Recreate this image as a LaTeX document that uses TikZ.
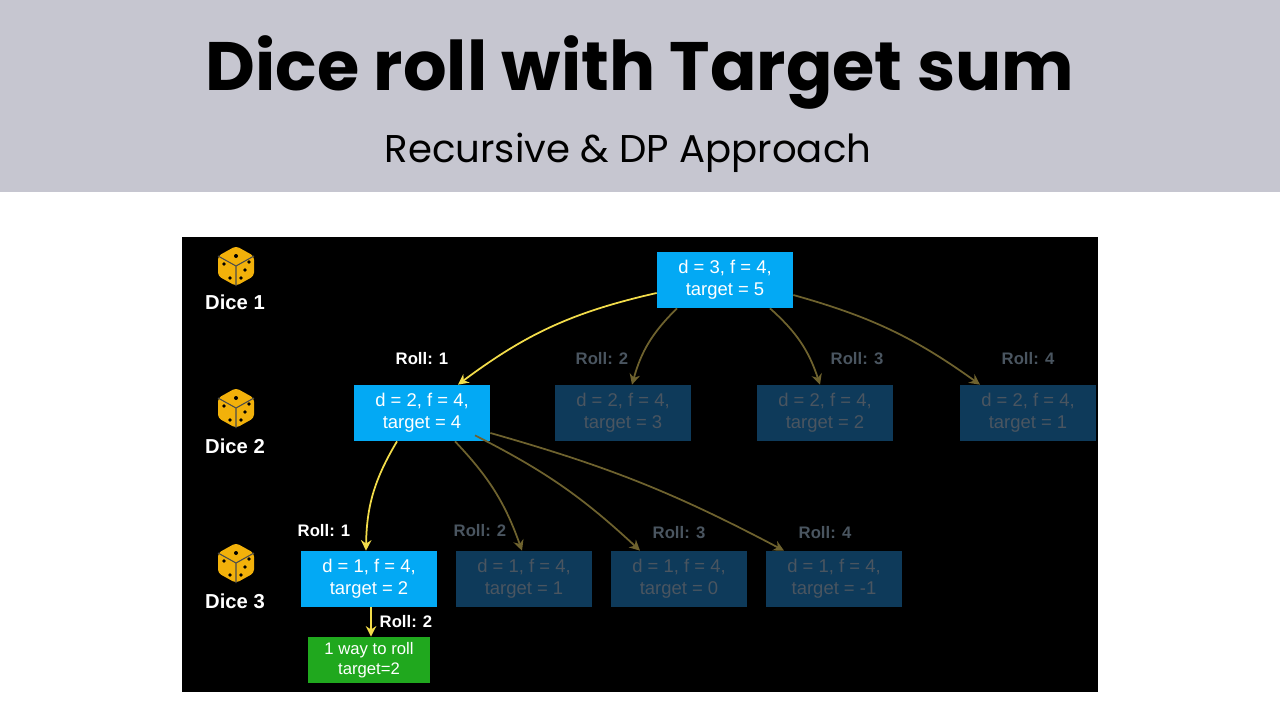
\documentclass[tikz,border=0pt]{standalone}
\usepackage{fontspec}
\setmainfont{Liberation Sans}
\newfontfamily\titlefont{Poppins}
\usetikzlibrary{arrows.meta}
\definecolor{band}{HTML}{C6C6D0}
\definecolor{live}{HTML}{03A9F4}
\definecolor{dead}{HTML}{0E3A5A}
\definecolor{deadtext}{HTML}{4A5560}
\definecolor{goal}{HTML}{20A81E}
\definecolor{hot}{HTML}{F2DC4A}
\definecolor{cold}{HTML}{6E622E}
\definecolor{die}{HTML}{F2B10A}
\newcommand{\dicepic}[1]{%
\begin{scope}[shift={#1}]
\fill[die,rounded corners=2pt] (0,-20) -- (18,-10) -- (18,10) -- (0,20) -- (-18,10) -- (-18,-10) -- cycle;
\draw[black!70,line width=0.6pt] (0,0) -- (0,20) (0,0) -- (18,-10) (0,0) -- (-18,-10);
\fill[black] (0,-10) circle (2) (-12,-2) circle (1.8) (-6,12) circle (1.8)
  (13,-4) circle (1.8) (9,4) circle (1.8) (5,12) circle (1.8);
\end{scope}}
\begin{document}
\begin{tikzpicture}[x=0.02cm,y=-0.02cm]
\tikzstyle{state}=[minimum width=136*0.02cm,minimum height=56*0.02cm,inner sep=0pt,align=center,font=\fontsize{10.5}{12.5}\selectfont]
\tikzstyle{alive}=[state,fill=live,text=white]
\tikzstyle{pruned}=[state,fill=dead,text=deadtext]
\tikzstyle{roll}=[font=\bfseries\fontsize{9.5}{11}\selectfont,text=white]
\tikzstyle{rollx}=[roll,text=deadtext]
\tikzstyle{dice}=[font=\bfseries\fontsize{11.5}{13}\selectfont,text=white]
\tikzstyle{hotarrow}=[draw=hot,line width=1pt,-{Stealth[length=6pt,width=6pt]}]
\tikzstyle{coldarrow}=[draw=cold,line width=1pt,-{Stealth[length=6pt,width=6pt]}]
\useasboundingbox (0,0) rectangle (1280,720);
\fill[white] (0,0) rectangle (1280,720);
\fill[band] (0,0) rectangle (1280,192);
\node[font=\titlefont\bfseries\fontsize{39}{44}\selectfont] (title) at (640,72) {Dice roll with Target sum};
\node[font=\titlefont\fontsize{22}{26}\selectfont] (sub) at (628,153) {Recursive \& DP Approach};
\fill[black] (182,237) rectangle (1098,692);

\dicepic{(236,266)} \dicepic{(236,408)} \dicepic{(236,563)}
\node[dice] (d1) at (235,302) {Dice 1};
\node[dice] (d2) at (235,446) {Dice 2};
\node[dice] (d3) at (235,601) {Dice 3};

\node[alive] (top) at (725,280) {d = 3, f = 4,\\target = 5};
\node[alive] (a1) at (422,413) {d = 2, f = 4,\\target = 4};
\node[pruned] (a2) at (623,413) {d = 2, f = 4,\\target = 3};
\node[pruned] (a3) at (825,413) {d = 2, f = 4,\\target = 2};
\node[pruned] (a4) at (1028,413) {d = 2, f = 4,\\target = 1};
\node[alive] (b1) at (369,579) {d = 1, f = 4,\\target = 2};
\node[pruned] (b2) at (524,579) {d = 1, f = 4,\\target = 1};
\node[pruned] (b3) at (679,579) {d = 1, f = 4,\\target = 0};
\node[pruned] (b4) at (834,579) {d = 1, f = 4,\\target = -1};
\node[state,fill=goal,text=white,minimum width=122*0.02cm,minimum height=46*0.02cm,font=\fontsize{9.5}{11.5}\selectfont] (win) at (369,660) {1 way to roll\\target=2};

\node[roll] (r1) at (422,359) {Roll: 1};
\node[rollx] (r2) at (602,359) {Roll: 2};
\node[rollx] (r3) at (857,359) {Roll: 3};
\node[rollx] (r4) at (1028,359) {Roll: 4};
\node[roll] (s1) at (324,531) {Roll: 1};
\node[rollx] (s2) at (480,531) {Roll: 2};
\node[rollx] (s3) at (679,533) {Roll: 3};
\node[rollx] (s4) at (825,533) {Roll: 4};
\node[roll] (t2) at (406,622) {Roll: 2};

\path[hotarrow] (top.west) ++(0,13) to[bend right=12] ([xshift=36*0.02cm]a1.north);
\path[coldarrow] ([xshift=-48*0.02cm]top.south) to[bend right=15] ([xshift=9*0.02cm]a2.north);
\path[coldarrow] ([xshift=45*0.02cm]top.south) to[bend left=15] ([xshift=-5*0.02cm]a3.north);
\path[coldarrow] (top.east) ++(0,15) to[bend left=10] ([xshift=-48*0.02cm]a4.north);
\path[hotarrow] ([xshift=-25*0.02cm]a1.south) to[bend right=15] ([xshift=-3*0.02cm]b1.north);
\path[coldarrow] ([xshift=33*0.02cm]a1.south) to[bend left=12] ([xshift=-2*0.02cm]b2.north);
\path[coldarrow] ([xshift=53*0.02cm]a1.south) ++(0,-6) to[bend left=8] ([xshift=-39*0.02cm]b3.north);
\path[coldarrow] (a1.east) ++(0,20) to[bend left=6] ([xshift=-50*0.02cm]b4.north);
\path[hotarrow] ([xshift=2*0.02cm]b1.south) -- ([xshift=2*0.02cm]win.north);
\end{tikzpicture}
\end{document}
